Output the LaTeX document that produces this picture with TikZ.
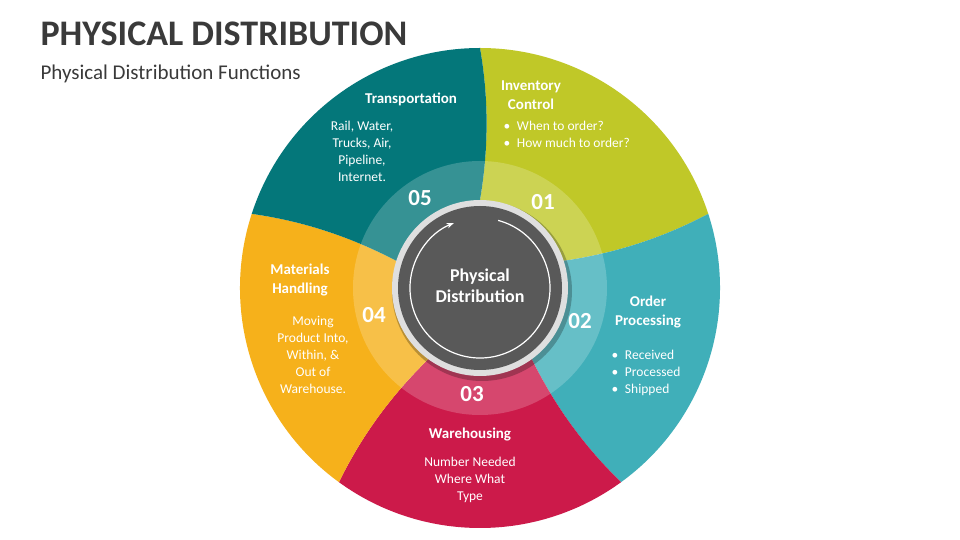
\documentclass[tikz,border=0pt]{standalone}
\usepackage{fontspec}
\setmainfont{Carlito}
\usetikzlibrary{arrows.meta}
\definecolor{segA}{HTML}{C0C828}
\definecolor{segB}{HTML}{40AFB9}
\definecolor{segC}{HTML}{CC1A4A}
\definecolor{segD}{HTML}{F6B11B}
\definecolor{segE}{HTML}{04777A}
\definecolor{hub}{HTML}{595959}
\definecolor{titlegray}{HTML}{3A3A3A}
\newcommand{\segment}[3]{%
  \fill[#3] (0,0) -- (#1:88) .. controls (#1-4:150) and (#1-2:200) .. (#1:240)
    arc[start angle=#1, end angle=#2, radius=240]
    .. controls (#2-2:200) and (#2-4:150) .. (#2:88) -- cycle;}
\begin{document}
\begin{tikzpicture}[x=1pt, y=1pt,
  head/.style = {text=white, font=\fontsize{15}{19}\selectfont\bfseries, align=center},
  body/.style = {text=white, font=\fontsize{13.5}{17}\selectfont, align=center},
  list/.style = {text=white, font=\fontsize{13.5}{17}\selectfont, align=left, anchor=north west},
  num/.style = {text=white, font=\fontsize{23}{26}\selectfont\bfseries}]
\useasboundingbox (-480,-252) rectangle (480,288);
\fill[white] (-480,-252) rectangle (480,288);
% title
\node[anchor=west, text=titlegray, font=\fontsize{36}{40}\selectfont\bfseries] (title) at (-443,254) {PHYSICAL DISTRIBUTION};
\node[anchor=west, text=titlegray, font=\fontsize{21}{25}\selectfont] (subtitle) at (-443,214) {Physical Distribution Functions};
% segments
\segment{90}{18}{segA}
\segment{18}{-54}{segB}
\segment{-54}{-126}{segC}
\segment{-126}{-198}{segD}
\segment{162}{90}{segE}
% translucent ring and hub
\fill[white, opacity=0.2] (0,0) circle (127);
\fill[black, opacity=0.25] (2,-3) circle (90);
\fill[gray!25] (0,0) circle (88);
\fill[hub] (0,0) circle (82);
\draw[white, line width=1.2pt, -{Stealth[length=7pt]}] (75:70) arc[start angle=75, end angle=-248, radius=70];
\node[head, font=\fontsize{18}{21}\selectfont\bfseries] (hubtext) at (0,2) {Physical\\Distribution};
% numbers
\node[num] (n1) at (63,86) {01};
\node[num] (n2) at (100,-33) {02};
\node[num] (n3) at (-8,-106) {03};
\node[num] (n4) at (-106,-27) {04};
\node[num] (n5) at (-60,90) {05};
% texts
\node[head] (invhead) at (51,193) {Inventory\\Control};
\node[list] (invlist) at (20,170) {\textbullet\enspace When to order?\\\textbullet\enspace How much to order?};
\node[head] (ordhead) at (168,-24) {Order\\Processing};
\node[list] (ordlist) at (128,-59) {\textbullet\enspace Received\\\textbullet\enspace Processed\\\textbullet\enspace Shipped};
\node[head] (warhead) at (-10,-147) {Warehousing};
\node[body] (warbody) at (-10,-192) {Number Needed\\Where What\\Type};
\node[head] (mathead) at (-180,8) {Materials\\Handling};
\node[body] (matbody) at (-167,-67) {Moving\\Product Into,\\Within, \&\\Out of\\Warehouse.};
\node[head] (trahead) at (-69,189) {Transportation};
\node[body] (trabody) at (-118,137) {Rail, Water,\\Trucks, Air,\\Pipeline,\\Internet.};
\end{tikzpicture}
\end{document}
